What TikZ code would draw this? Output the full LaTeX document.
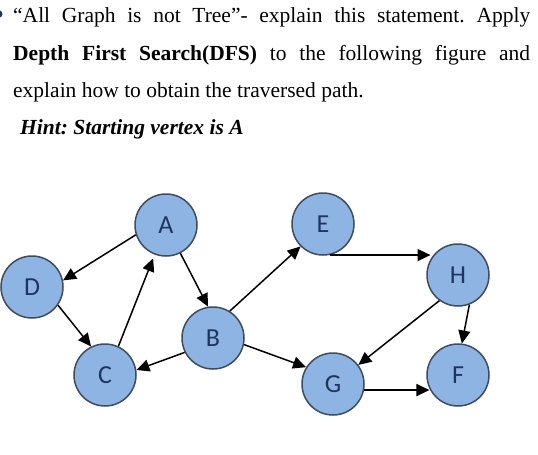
\documentclass[tikz,border=0pt]{standalone}
\usepackage{fontspec}
\setmainfont{Liberation Serif}
\newfontfamily\nodefont{Carlito}
\usetikzlibrary{arrows.meta}
\definecolor{nodefill}{HTML}{8EB4E3}
\definecolor{nodeline}{HTML}{3E4C5C}
\definecolor{nodetext}{HTML}{1F3560}
\begin{document}
\frenchspacing
\begin{tikzpicture}[x=1pt,y=-1pt,
  vert/.style={circle,draw=nodeline,line width=1.5pt,fill=nodefill,minimum size=62pt,inner sep=0pt,
    font=\nodefont\fontsize{26}{26}\selectfont,text=nodetext},
  edge/.style={line width=1.5pt,-{Triangle[length=13pt,width=12pt]}},
  txt/.style={anchor=base west,inner sep=0pt,font=\fontsize{21.5}{24}\selectfont}]
\useasboundingbox (0,0) rectangle (538,455);
\fill[fill=nodetext] (-1.5,14) circle (4);
\node[txt] (l1) at (13,23) {\makebox[517pt][s]{“All Graph is not Tree”- explain this statement. Apply}};
\node[txt] (l2) at (13,60.5) {\makebox[517pt][s]{\textbf{Depth First Search(DFS)} to the following figure and}};
\node[txt] (l3) at (13,97) {explain how to obtain the traversed path.};
\node[txt] (l4) at (20,134) {\textbf{\textit{Hint: Starting vertex is A}}};
\node[vert] (A) at (166,225) {A};
\node[vert] (D) at (32,287) {D};
\node[vert] (C) at (105,375) {C};
\node[vert] (B) at (213,338) {B};
\node[vert] (E) at (323,224) {E};
\node[vert] (H) at (458,275) {H};
\node[vert] (G) at (333,384) {G};
\node[vert] (F) at (458,375) {F};
\draw[edge] (A.198) -- (D.12);
\draw[edge] (D.-35) -- (C.116);
\draw[edge,shorten >=4pt] (C.65) -- (A.249);
\draw[edge] (A.-63) -- (B.99);
\draw[edge] (B.207) -- (C.9);
\draw[edge] (B.58) -- (E.225);
\draw[edge] (E.-78) -- (H.150 |- E.-78);
\draw[edge] (H.234) -- (G.37);
\draw[edge] (H.-69) -- (F.83);
\draw[edge] (B.-12) -- (G.148);
\draw[edge] (G.-11) -- (F.206 |- G.-11);
\end{tikzpicture}
\end{document}
